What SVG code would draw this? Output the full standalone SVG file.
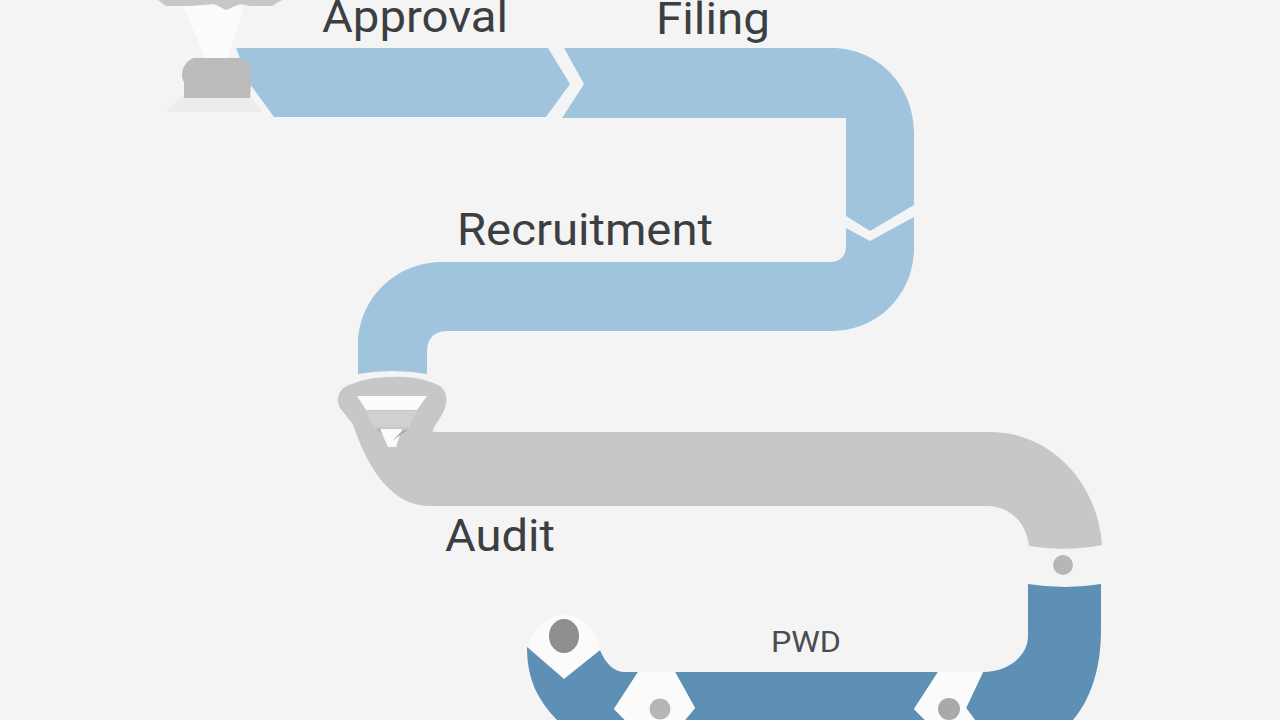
<svg xmlns="http://www.w3.org/2000/svg" width="1280" height="720" viewBox="0 0 1280 720">
<style>
.lt{fill:#a0c4dd}.gr{fill:#c6c7c8}.dk{fill:#5e8fb4}.wh{fill:#fbfbfb}
.lab{font-family:Roboto,"Liberation Sans",sans-serif;fill:#3c3f42;font-size:44px}
.dot{fill:#b5b6b7}
</style>
<rect width="1280" height="720" fill="#f4f4f4"/>
<g id="connectors">
<path class="lt" d="M236 48H548L570 84L546 117H274L250 84Z"/>
<path class="lt" d="M564 48H832C878 48 914 86 914 132V205L870 231L846 216V118H562L584 84Z"/>
<path class="lt" d="M914 217V248C914 294 878 331 832 331H448C434 331 427 338 427 352V374Q392 368 358 374V346C358 298 396 262 442 262H830C840 262 846 256 846 246V228L870 241Z"/>
<path class="gr" d="M350 415L436 432H990C1052 432 1098 484 1102 545Q1065 552 1029 546C1026 522 1010 506 986 506H430C395 506 368 475 350 415Z"/>
<path class="dk" d="M1028 584Q1065 590 1101 584V630C1101 670 1090 700 1073 720H975L966 708L983 672C1008 672 1028 656 1028 636Z"/>
<path class="dk" d="M675 672H938L914 709L925 720H685L695 708Z"/>
<path class="dk" d="M527 647L564 679L600 650C606 665 615 672 625 672H638L614 709L625 720H557C538 700 527 680 527 647Z"/>
</g>
<g id="node-approval">
<path class="wh" d="M183 6H244L228 58H205Z"/>
<path class="gr" d="M158 0H282L272 6L250 6L240 4L226 10L214 4L190 6L166 6Z"/>
<path fill="#ececec" d="M182 96H250L262 112H166Z"/>
<path fill="#bbbbbc" d="M184 98V82C180 76 182 62 194 58H240C250 60 254 70 251 84L250 98Z"/>
<text class="lab" x="322" y="32" textLength="186" lengthAdjust="spacingAndGlyphs">Approval</text>
</g>
<g id="node-filing"><text class="lab" x="656" y="34" textLength="114" lengthAdjust="spacingAndGlyphs">Filing</text></g>
<g id="node-recruitment"><text class="lab" x="457" y="245" textLength="256" lengthAdjust="spacingAndGlyphs">Recruitment</text></g>
<g id="node-audit">
<path class="gr" d="M394 377C412 376 428 380 440 386C450 394 448 408 436 424L428 440L394 470L372 455L356 428L340 408C334 396 342 386 352 384C366 378 380 377 394 377Z"/>
<path class="wh" d="M357 396H427L417 410H366Z"/>
<path fill="#d0d1d2" d="M366 411H417L409 427H374Z"/>
<path class="wh" d="M380 429H402L396 447H388Z"/>
<path fill="#a9aaab" d="M377 429H380L382 434ZM402 431L409 429L392 441Z"/>
<text class="lab" x="445" y="551" textLength="110" lengthAdjust="spacingAndGlyphs">Audit</text>
</g>
<g id="node-pwd">
<path class="wh" d="M564 678L600 650C596 630 585 616 564 615C545 616 532 630 528 646Z"/>
<ellipse cx="564" cy="636" rx="15" ry="17" fill="#8d8e90"/>
<circle class="dot" cx="1063" cy="565" r="10"/>
<path class="wh" d="M638 672H675L695 708L685 720H625L614 709Z"/>
<path class="wh" d="M938 672H983L966 708L975 720H925L914 709Z"/>
<circle class="dot" cx="660" cy="709" r="10.500"/>
<circle fill="#a8a9aa" cx="949" cy="709" r="11"/>
<text x="771" y="652" font-family="Roboto,'Liberation Sans',sans-serif" font-size="29" fill="#4a4d50" textLength="70" lengthAdjust="spacingAndGlyphs">PWD</text>
</g>
</svg>
